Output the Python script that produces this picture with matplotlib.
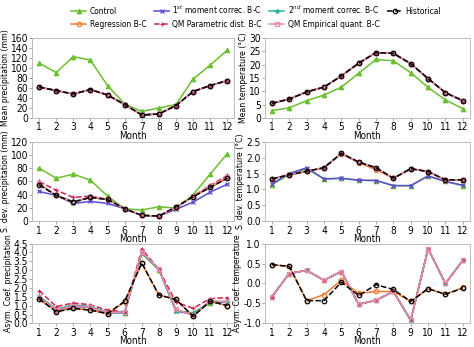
import numpy as np
import matplotlib
matplotlib.use("Agg")
import matplotlib.pyplot as plt
from matplotlib import font_manager

# look for a narrow sans face (the original uses a condensed font)
narrow = None
for f in font_manager.fontManager.ttflist:
    fn = f.fname.lower()
    if ('narrow' in fn or 'condensed' in fn) and 'bold' not in fn and 'oblique' not in fn \
            and 'italic' not in fn and 'mono' not in fn and 'serif' not in f.name.lower():
        narrow = f
        break
if narrow is not None:
    plt.rcParams['font.family'] = [narrow.name, 'DejaVu Sans']
    plt.rcParams['font.stretch'] = narrow.stretch
    fs = 7
else:
    plt.rcParams['font.family'] = ['Lato', 'DejaVu Sans']
    fs = 6.2
plt.rcParams['font.size'] = fs

months = np.arange(1, 13)

# mean precipitation (mm)
mp_control = [110, 91, 123, 116, 65, 28, 13, 20, 27, 78, 106, 136]
mp_hist = [62, 55, 48, 57, 46, 27, 6, 8, 25, 53, 65, 75]

# mean temperature (C)
mt_control = [2.8, 3.8, 6.5, 8.6, 11.6, 16.8, 22.0, 21.5, 17.0, 11.5, 6.8, 3.5]
mt_hist = [5.5, 7.1, 9.8, 11.6, 15.8, 20.6, 24.6, 24.3, 20.4, 14.8, 9.5, 6.5]

# s. dev. precipitation (mm)
sp_control = [80, 65, 71, 62, 38, 19, 17, 22, 20, 40, 71, 102]
sp_first = [45, 39, 27, 30, 27, 19, 9, 8, 18, 29, 44, 56]
sp_second = [57, 39, 30, 36, 33, 19, 9, 8, 20, 38, 52, 66]
sp_regr = [56, 39, 29, 36, 33, 19, 9, 8, 21, 37, 51, 65]
sp_qmp = [60, 47, 36, 38, 33, 19, 9, 8, 20, 38, 54, 69]
sp_qme = [57, 39, 29, 37, 33, 19, 9, 8, 21, 38, 53, 67]
sp_hist = [55, 39, 29, 36, 33, 19, 9, 8, 22, 37, 51, 65]

# s. dev. temperature (C)
st_control = [1.15, 1.47, 1.65, 1.33, 1.35, 1.29, 1.28, 1.12, 1.12, 1.43, 1.25, 1.12]
st_first = [1.17, 1.50, 1.68, 1.33, 1.35, 1.29, 1.28, 1.12, 1.12, 1.42, 1.25, 1.13]
st_regr = [1.33, 1.46, 1.57, 1.68, 2.12, 1.84, 1.62, 1.35, 1.65, 1.56, 1.30, 1.30]
st_hist = [1.33, 1.46, 1.57, 1.68, 2.13, 1.86, 1.68, 1.35, 1.65, 1.56, 1.30, 1.30]

# asym. coef. precipitation
ap_control = [1.50, 0.80, 1.00, 0.90, 0.60, 0.60, 3.95, 3.00, 0.75, 0.55, 1.15, 1.20]
ap_first = [1.50, 0.75, 0.95, 0.90, 0.60, 0.60, 4.00, 3.05, 0.70, 0.50, 1.20, 1.20]
ap_second = [1.55, 0.80, 1.05, 0.95, 0.65, 0.65, 4.00, 3.05, 0.70, 0.60, 1.20, 1.25]
ap_regr = [1.35, 0.70, 0.85, 0.75, 0.55, 1.20, 3.40, 1.60, 1.35, 0.40, 1.25, 1.00]
ap_qmp = [1.85, 0.95, 1.15, 1.05, 0.75, 0.65, 4.20, 3.05, 1.20, 0.85, 1.40, 1.45]
ap_qme = [1.50, 0.75, 1.00, 0.90, 0.60, 0.65, 4.05, 3.05, 0.80, 0.45, 1.30, 1.20]
ap_hist = [1.40, 0.65, 0.85, 0.75, 0.55, 1.25, 3.40, 1.60, 1.35, 0.40, 1.25, 1.00]

# asym. coef. temperature
at_control = [-0.33, 0.25, 0.33, 0.08, 0.30, -0.52, -0.42, -0.20, -0.92, 0.87, 0.00, 0.58]
at_regr = [0.47, 0.43, -0.43, -0.28, 0.08, -0.25, -0.20, -0.20, -0.45, -0.13, -0.27, -0.10]
at_hist = [0.47, 0.43, -0.43, -0.43, 0.03, -0.30, -0.03, -0.15, -0.45, -0.13, -0.27, -0.12]

labels = ['Control', '1$^{st}$ moment correc. B-C', '2$^{nd}$ moment correc. B-C',
          'Regression B-C', 'QM Parametric dist. B-C', 'QM Empirical quant. B-C', 'Historical']
styles = [
    dict(color='#6abf2e', marker='^', ls='-', mfc='#6abf2e'),
    dict(color='#5b4bd6', marker='x', ls='-', mfc='#5b4bd6'),
    dict(color='#26b3a0', marker='*', ls='-', mfc='#26b3a0'),
    dict(color='#f07a30', marker='o', ls='-', mfc='none'),
    dict(color='#d6204e', marker='+', ls='--', mfc='#d6204e'),
    dict(color='#e88aa8', marker='s', ls='-', mfc='none'),
    dict(color='black', marker='o', ls='--', mfc='none'),
]

panels = [
    ([mp_control, mp_hist, mp_hist, mp_hist, mp_hist, mp_hist, mp_hist],
     'Mean precipitation (mm)', (0, 160), np.arange(0, 161, 20), '%d'),
    ([mt_control, mt_hist, mt_hist, mt_hist, mt_hist, mt_hist, mt_hist],
     'Mean temperature (\u00b0C)', (0, 30), np.arange(0, 31, 5), '%d'),
    ([sp_control, sp_first, sp_second, sp_regr, sp_qmp, sp_qme, sp_hist],
     'S. dev. precipitation (mm)', (0, 120), np.arange(0, 121, 20), '%d'),
    ([st_control, st_first, st_hist, st_regr, st_hist, st_hist, st_hist],
     'S. dev. temperature (\u00b0C)', (0, 2.5), np.arange(0, 2.51, 0.5), '%.1f'),
    ([ap_control, ap_first, ap_second, ap_regr, ap_qmp, ap_qme, ap_hist],
     'Asym. Coef. precipitation', (0, 4.5), np.arange(0, 4.51, 0.5), '%.1f'),
    ([at_control, at_control, at_control, at_regr, at_control, at_control, at_hist],
     'Asym. Coef. temperature', (-1, 1), np.arange(-1, 1.01, 0.5), '%.1f'),
]

fig = plt.figure(figsize=(4.74, 3.47), dpi=100)
lefts = [0.068, 0.559]
bottoms = [0.660, 0.362, 0.068]
w = [0.426, 0.432]
h = 0.230

handles = []
for i, (series, ylab, ylim, yt, fmt) in enumerate(panels):
    r, c = divmod(i, 2)
    ax = fig.add_axes([lefts[c], bottoms[r], w[c], h])
    for k, (vals, st) in enumerate(zip(series, styles)):
        ln, = ax.plot(months, vals, color=st['color'], ls=st['ls'], marker=st['marker'],
                      mfc=st['mfc'], mec=st['color'], ms=3.2, lw=1.1, mew=0.9,
                      label=labels[k])
        if i == 0:
            handles.append(ln)
    ax.set_xlim(0.6, 12.4)
    ax.set_ylim(*ylim)
    ax.set_yticks(yt)
    ax.set_yticklabels([fmt % v for v in yt])
    ax.set_xticks(months)
    ax.set_ylabel(ylab, fontsize=fs - 0.8, labelpad=0.5)
    ax.set_xlabel('Month', fontsize=fs, labelpad=-1)
    ax.tick_params(labelsize=fs + 0.3, length=2, width=0.6, pad=1, color='#999999')
    for sp in ax.spines.values():
        sp.set_color('#bbbbbb')
        sp.set_linewidth(0.7)

order = [0, 3, 1, 4, 2, 5, 6]
fig.legend([handles[j] for j in order], [labels[j] for j in order], ncol=4,
           loc='upper left', bbox_to_anchor=(0.135, 1.012), frameon=False,
           fontsize=fs - 1.0, handlelength=1.8, handletextpad=0.4, columnspacing=0.9,
           labelspacing=0.55)

fig.savefig('out.png', dpi=100)
